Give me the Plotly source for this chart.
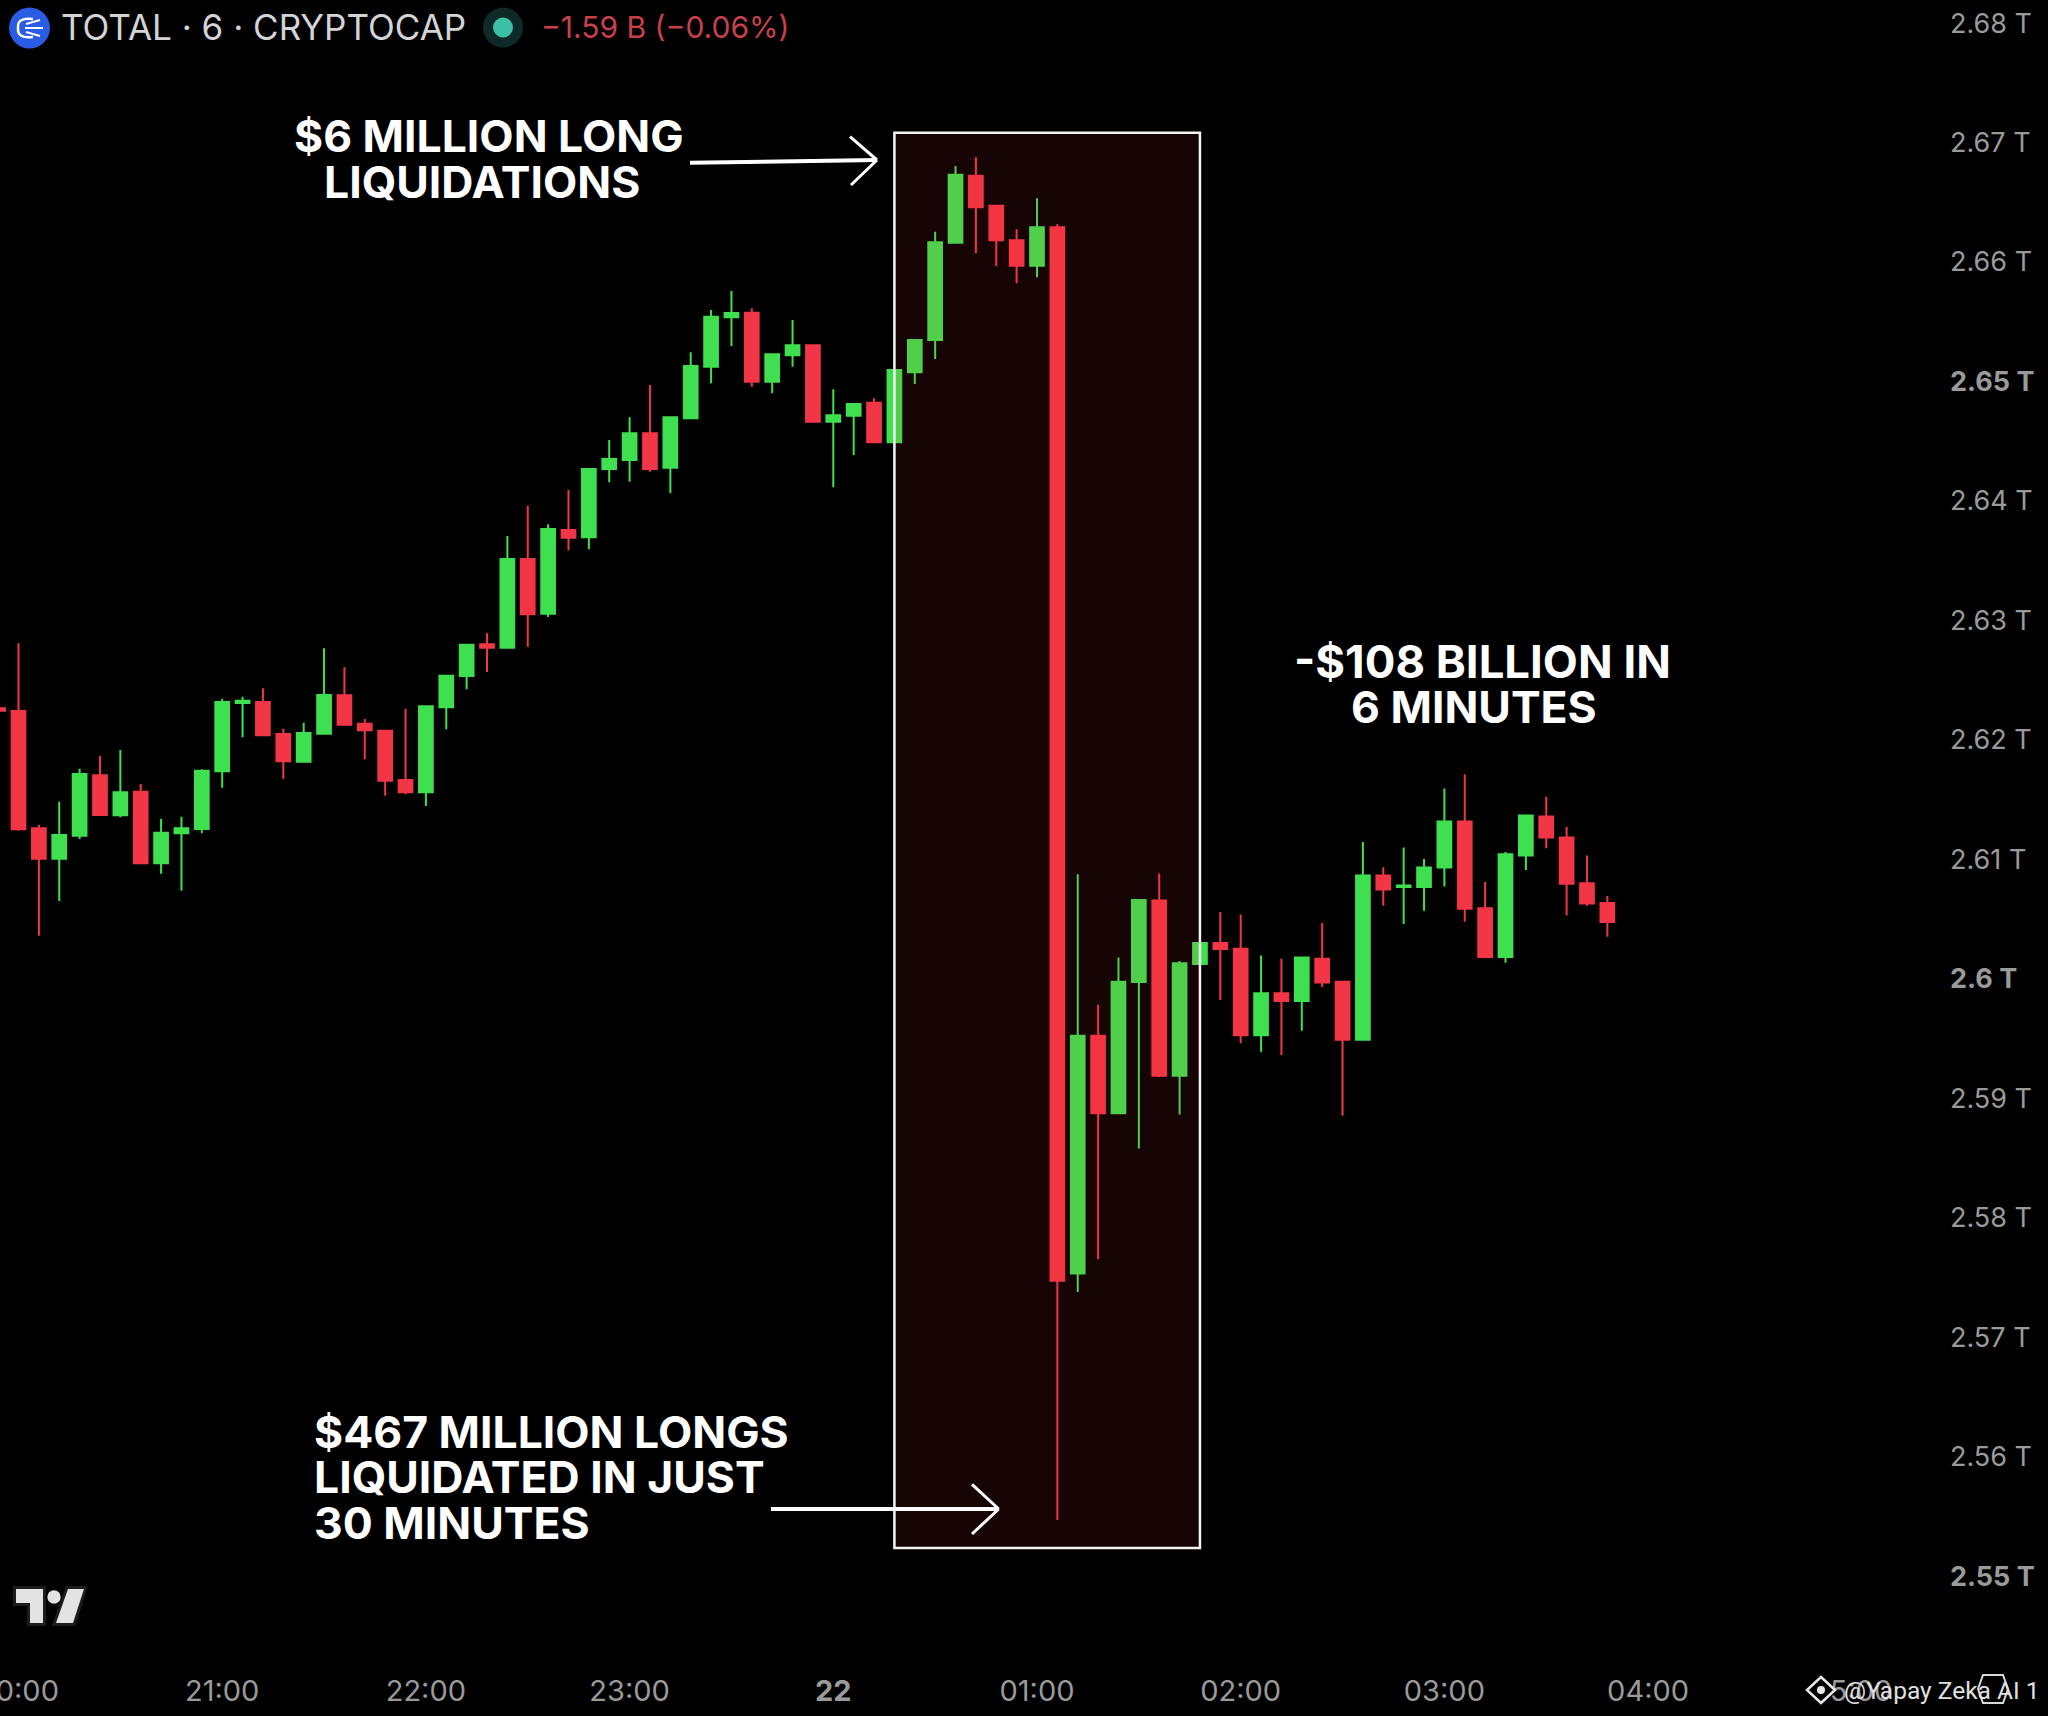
import pandas as pd
import plotly.graph_objects as go

# Candle values in billions of USD, 6-minute bars from 19:54 on the 21st
highs = [2623.17,2628.08,2612.87,2614.82,2617.58,2618.67,2619.15,2616.30,2613.37,2613.56,2617.53,2623.44,2623.61,2624.31,2620.93,2621.43,2627.66,2626.07,2621.74,2620.80,2622.60,2622.83,2625.43,2628.00,2628.92,2637.06,2639.60,2638.04,2640.91,2642.75,2645.10,2647.00,2649.70,2647.05,2652.44,2655.98,2657.57,2656.12,2652.36,2655.14,2653.05,2649.34,2648.17,2648.59,2650.96,2653.47,2662.53,2668.03,2668.76,2664.71,2662.74,2665.33,2663.18,2608.74,2597.83,2601.78,2606.59,2608.80,2601.48,2603.00,2605.58,2605.37,2601.95,2601.68,2601.84,2604.67,2599.74,2611.44,2609.34,2610.99,2610.03,2615.92,2617.11,2608.09,2610.60,2613.67,2615.23,2612.72,2610.32,2606.92]
lows = [2619.93,2612.39,2603.60,2606.51,2611.70,2613.71,2613.51,2609.66,2608.79,2607.37,2612.17,2615.99,2620.21,2620.32,2616.74,2618.12,2620.51,2621.26,2618.37,2615.32,2615.44,2614.46,2620.88,2624.23,2625.68,2627.63,2627.79,2630.28,2635.86,2635.95,2641.56,2641.61,2642.44,2640.64,2646.91,2649.84,2652.97,2649.56,2649.01,2651.23,2646.63,2641.14,2643.84,2644.90,2644.90,2649.79,2651.88,2661.61,2660.73,2659.66,2658.21,2658.72,2554.69,2573.77,2576.55,2588.74,2585.78,2591.77,2588.63,2601.24,2598.22,2594.60,2593.88,2593.62,2595.65,2599.30,2588.53,2594.90,2606.11,2604.59,2605.69,2607.73,2604.77,2601.81,2601.33,2609.10,2610.93,2605.30,2606.11,2603.51]
body_top = [2622.64,2622.41,2612.59,2612.03,2617.14,2617.03,2615.61,2615.66,2612.22,2612.59,2617.41,2623.17,2623.27,2623.17,2620.49,2620.57,2623.75,2623.73,2621.35,2620.76,2616.64,2622.81,2625.37,2627.96,2628.00,2635.14,2635.14,2637.65,2637.56,2642.67,2643.51,2645.66,2645.66,2647.00,2651.29,2655.42,2655.73,2655.75,2652.27,2653.02,2653.02,2647.17,2648.11,2648.22,2650.96,2653.47,2661.65,2667.31,2667.22,2664.71,2661.81,2662.90,2662.90,2595.23,2595.23,2599.74,2606.59,2606.56,2601.30,2603.00,2603.00,2602.52,2598.79,2598.79,2601.78,2601.68,2599.74,2608.65,2608.65,2607.81,2609.31,2613.17,2613.17,2605.90,2610.42,2613.67,2613.59,2611.82,2608.00,2606.35]
body_bottom = [2622.44,2612.51,2610.05,2610.05,2611.97,2613.71,2613.68,2609.66,2609.66,2612.17,2612.53,2617.36,2623.08,2620.38,2618.20,2618.17,2620.51,2621.26,2620.80,2616.58,2615.61,2615.61,2622.72,2625.34,2627.71,2627.71,2630.51,2630.56,2636.92,2636.95,2642.67,2643.42,2642.67,2642.78,2646.91,2651.23,2655.37,2649.98,2649.98,2652.19,2646.63,2646.63,2647.13,2644.90,2644.90,2650.76,2653.47,2661.61,2664.58,2661.81,2659.69,2659.69,2574.72,2575.32,2588.74,2588.74,2599.72,2591.88,2591.88,2601.24,2602.50,2595.26,2595.26,2598.13,2598.13,2599.68,2594.90,2594.90,2607.46,2607.67,2607.67,2609.31,2605.85,2601.81,2601.81,2610.32,2611.82,2607.96,2606.29,2604.74]
is_red = [1,1,1,0,0,1,0,1,0,0,0,0,0,1,1,0,0,1,1,1,1,0,0,0,1,0,1,0,1,0,0,0,1,0,0,0,0,1,0,0,1,0,0,1,0,0,0,0,1,1,1,0,1,0,1,0,0,1,0,0,1,1,0,1,0,1,1,0,1,0,0,0,1,1,0,0,1,1,1,1]
times = pd.date_range("2025-06-21 19:54", periods=len(highs), freq="6min")
opens = [t if r else b for t, b, r in zip(body_top, body_bottom, is_red)]
closes = [b if r else t for t, b, r in zip(body_top, body_bottom, is_red)]

price_ticks = [2550, 2560, 2570, 2580, 2590, 2600, 2610, 2620, 2630, 2640, 2650, 2660, 2670, 2680]
price_labels = ["<b>2.55 T</b>", "2.56 T", "2.57 T", "2.58 T", "2.59 T", "<b>2.6 T</b>", "2.61 T", "2.62 T", "2.63 T", "2.64 T", "<b>2.65 T</b>", "2.66 T", "2.67 T", "2.68 T"]
time_ticks = ["2025-06-21 20:00", "2025-06-21 21:00", "2025-06-21 22:00", "2025-06-21 23:00", "2025-06-22 00:00", "2025-06-22 01:00", "2025-06-22 02:00", "2025-06-22 03:00", "2025-06-22 04:00", "2025-06-22 05:00"]
time_labels = ["20:00", "21:00", "22:00", "23:00", "<b>22</b>", "01:00", "02:00", "03:00", "04:00", "05:00"]

W, H = 2048, 1716
PLOT_R, PLOT_B = 1949, 1666
GREEN, RED = "#3FE04F", "#F23645"
FONT = "Inter"


def fx(px):
    return px / PLOT_R


def fy(py):
    return 1 - py / PLOT_B


def pts(points):
    return " L ".join(f"{fx(x):.5f},{fy(y):.5f}" for x, y in points)


fig = go.Figure(go.Candlestick(
    x=times, open=opens, high=highs, low=lows, close=closes,
    whiskerwidth=0,
    increasing=dict(line=dict(color=GREEN, width=2), fillcolor=GREEN),
    decreasing=dict(line=dict(color=RED, width=2), fillcolor=RED),
    showlegend=False, hoverinfo="skip",
))


def line(x0, y0, x1, y1, color="#FFFFFF", width=4):
    fig.add_shape(type="line", xref="paper", yref="paper", x0=fx(x0), y0=fy(y0), x1=fx(x1), y1=fy(y1),
                  line=dict(color=color, width=width), layer="above")


def text(px, py, s, size=44.5, color="#FFFFFF", anchor="center", weight=700, family=FONT):
    fig.add_annotation(xref="paper", yref="paper", x=fx(px), y=fy(py), text=s, showarrow=False,
                       xanchor=anchor, yanchor="middle", align=anchor,
                       font=dict(family=family, size=size, color=color, weight=weight))


def circle(cx, cy, r, color):
    fig.add_shape(type="circle", xref="paper", yref="paper", x0=fx(cx - r), x1=fx(cx + r), y0=fy(cy + r), y1=fy(cy - r),
                  fillcolor=color, line_width=0, layer="above")


def poly(points, color="#E3E3E3", stroke=None, width=0):
    fig.add_shape(type="path", xref="paper", yref="paper", path="M " + pts(points) + " Z", fillcolor=color,
                  line=dict(color=stroke or color, width=width), layer="above")


# Highlighted window
fig.add_shape(type="rect", xref="x", yref="y", x0="2025-06-22 00:18", x1="2025-06-22 01:48", y0=2552.34, y1=2670.82,
              fillcolor="rgba(255,40,40,0.09)", line=dict(color="#F4F4F4", width=2.5), layer="above")

# Arrows
line(690, 162.7, 877, 160); line(850, 136.7, 877, 160, width=3); line(851, 185, 877, 160, width=3)
line(771, 1509, 998.7, 1509); line(972, 1484.3, 998.7, 1509, width=3); line(972, 1534, 998.7, 1509, width=3)

# Callouts
text(489, 136, "$6 MILLION LONG"); text(482, 181.5, "LIQUIDATIONS")
text(1482, 661, "-$108 BILLION IN", size=45.5); text(1474, 706.5, "6 MINUTES")
text(312, 1431.5, "$467 MILLION LONGS", anchor="left")
text(312, 1477, "LIQUIDATED IN JUST", anchor="left")
text(312, 1522.5, "30 MINUTES", anchor="left")

# Header: exchange mark
circle(29.5, 28, 20.5, "#2B5CE6")
fig.add_shape(type="path", xref="paper", yref="paper", layer="above", line=dict(color="#FFFFFF", width=2.5),
              path=f"M {fx(33):.5f},{fy(19):.5f} Q {fx(17):.5f},{fy(17):.5f} {fx(18):.5f},{fy(28):.5f} Q {fx(17):.5f},{fy(39):.5f} {fx(33):.5f},{fy(37):.5f}")
line(25, 28, 43, 28, width=2); line(26, 24, 40, 20, width=2); line(26, 32, 40, 36, width=2)
text(59, 27.5, "TOTAL · 6 · CRYPTOCAP", size=35, color="#D2D4D8", anchor="left", weight=400)
circle(503, 27.5, 20, "#0E2A28")
circle(503, 27.5, 10, "#3DBFA6")
text(539, 27.5, "−1.59 B (−0.06%)", size=30, color="#C9404A", anchor="left", weight=400)

# TradingView mark
logo_t = [(16, 1589), (43, 1589), (43, 1623), (30, 1623), (30, 1603), (16, 1603)]
logo_slash = [(68, 1589), (84, 1589), (73, 1623), (56, 1623)]
poly(logo_t, color="#1C1C1C", stroke="#1C1C1C", width=6)
poly(logo_slash, color="#1C1C1C", stroke="#1C1C1C", width=6)
poly(logo_t)
circle(54, 1597, 6.7, "#E3E3E3")
poly(logo_slash)

# Watermark
fig.add_shape(type="path", xref="paper", yref="paper", layer="above", fillcolor="#000000",
              line=dict(color="#E8E8E8", width=2.5),
              path="M " + pts([(1821, 1677), (1835, 1690), (1821, 1703), (1807, 1690)]) + " Z")
circle(1821, 1690, 4, "#E8E8E8")
fig.add_shape(type="path", xref="paper", yref="paper", layer="above", line=dict(color="#D8D8D8", width=2),
              path="M " + pts([(1983, 1675), (2003, 1675), (2008, 1689), (2003, 1703), (1983, 1703), (1978, 1689)]) + " Z")
text(1842, 1690, "@Yapay Zeka AI 1", size=24.5, color="#E0E0E0", anchor="left", weight=400, family="Roboto")

fig.update_layout(
    width=W, height=H, paper_bgcolor="#000000", plot_bgcolor="#000000",
    margin=dict(l=0, r=W - PLOT_R, t=0, b=H - PLOT_B),
    boxgap=0.18, boxgroupgap=0.18,
    font=dict(family=FONT, color="#9A9A9A", size=25),
    xaxis=dict(type="date", range=["2025-06-21 19:54:33", "2025-06-22 05:28:38"], rangeslider=dict(visible=False),
               tickmode="array", tickvals=time_ticks, ticktext=time_labels, tickangle=0, ticks="",
               ticklabeloverflow="allow", ticklabelstandoff=5,
               showgrid=False, zeroline=False, showline=False, automargin=False, tickfont=dict(size=29, color="#9A9A9A")),
    yaxis=dict(side="right", range=[2542.47, 2681.93], tickmode="array", tickvals=price_ticks, ticktext=price_labels,
               ticks="", showgrid=False, zeroline=False, showline=False, automargin=False,
               tickfont=dict(size=27, color="#9A9A9A")),
)

fig.write_html("out.html", config=dict(displayModeBar=False),
               post_script="document.body.style.margin='0';document.body.style.background='#000';")
